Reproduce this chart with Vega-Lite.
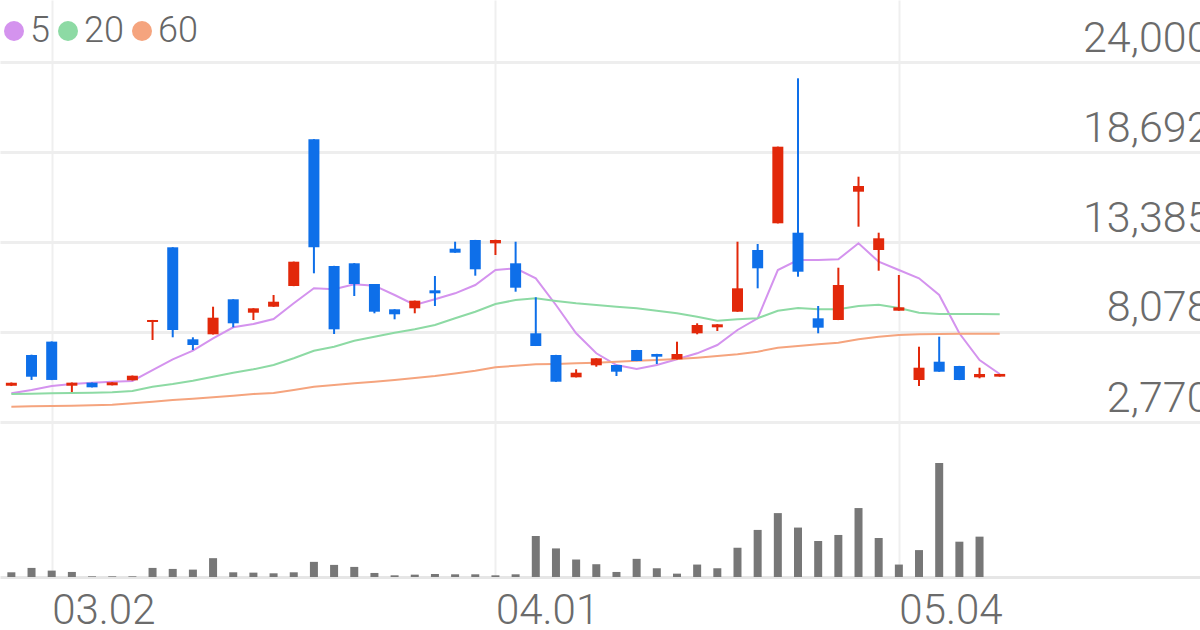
{
  "$schema": "https://vega.github.io/schema/vega-lite/v6.json",
  "padding": 0,
  "background": "white",
  "spacing": 0,
  "bounds": "flush",
  "config": {"view": {"stroke": null}, "font": "Roboto"},
  "datasets": {
    "d": [
      {"i": 0, "date": "02.27", "open": 4910, "high": 5100, "low": 4890, "close": 5090, "volume": 140000, "ma5": 4463, "ma20": 4421, "ma60": 3672},
      {"i": 1, "date": "02.28", "open": 6720, "high": 6740, "low": 5250, "close": 5440, "volume": 270000, "ma5": 4657, "ma20": 4439, "ma60": 3696},
      {"i": 2, "date": "03.02", "open": 7510, "high": 7520, "low": 5240, "close": 5250, "volume": 190000, "ma5": 4893, "ma20": 4463, "ma60": 3713},
      {"i": 3, "date": "03.03", "open": 4910, "high": 5100, "low": 4540, "close": 5090, "volume": 150000, "ma5": 5011, "ma20": 4480, "ma60": 3731},
      {"i": 4, "date": "03.04", "open": 5088, "high": 5095, "low": 4810, "close": 4816, "volume": 20000, "ma5": 5088, "ma20": 4498, "ma60": 3755},
      {"i": 5, "date": "03.05", "open": 4934, "high": 5115, "low": 4930, "close": 5111, "volume": 20000, "ma5": 5146, "ma20": 4521, "ma60": 3790},
      {"i": 6, "date": "03.06", "open": 5229, "high": 5510, "low": 5220, "close": 5500, "volume": 20000, "ma5": 5188, "ma20": 4598, "ma60": 3873},
      {"i": 7, "date": "03.09", "open": 8667, "high": 8790, "low": 7606, "close": 8785, "volume": 270000, "ma5": 5836, "ma20": 4852, "ma60": 3967},
      {"i": 8, "date": "03.10", "open": 13072, "high": 13080, "low": 7765, "close": 8195, "volume": 240000, "ma5": 6467, "ma20": 5011, "ma60": 4067},
      {"i": 9, "date": "03.11", "open": 7647, "high": 7765, "low": 7016, "close": 7311, "volume": 220000, "ma5": 6975, "ma20": 5205, "ma60": 4144},
      {"i": 10, "date": "03.12", "open": 7942, "high": 9569, "low": 7930, "close": 8921, "volume": 560000, "ma5": 7706, "ma20": 5441, "ma60": 4226},
      {"i": 11, "date": "03.13", "open": 10006, "high": 10010, "low": 8354, "close": 8590, "volume": 140000, "ma5": 8354, "ma20": 5677, "ma60": 4321},
      {"i": 12, "date": "03.16", "open": 9216, "high": 9480, "low": 8785, "close": 9475, "volume": 130000, "ma5": 8549, "ma20": 5878, "ma60": 4421},
      {"i": 13, "date": "03.17", "open": 9569, "high": 10259, "low": 9560, "close": 9864, "volume": 110000, "ma5": 8844, "ma20": 6131, "ma60": 4480},
      {"i": 14, "date": "03.18", "open": 10790, "high": 12230, "low": 10780, "close": 12223, "volume": 140000, "ma5": 9770, "ma20": 6526, "ma60": 4657},
      {"i": 15, "date": "03.19", "open": 19441, "high": 19450, "low": 11539, "close": 13072, "volume": 450000, "ma5": 10654, "ma20": 6975, "ma60": 4852},
      {"i": 16, "date": "03.20", "open": 11969, "high": 11980, "low": 7959, "close": 8236, "volume": 360000, "ma5": 10595, "ma20": 7210, "ma60": 4952},
      {"i": 17, "date": "03.23", "open": 12129, "high": 12140, "low": 10200, "close": 10908, "volume": 300000, "ma5": 10890, "ma20": 7564, "ma60": 5052},
      {"i": 18, "date": "03.24", "open": 10908, "high": 10910, "low": 9180, "close": 9274, "volume": 120000, "ma5": 10808, "ma20": 7800, "ma60": 5146},
      {"i": 19, "date": "03.25", "open": 9416, "high": 9420, "low": 8826, "close": 9121, "volume": 50000, "ma5": 10259, "ma20": 8036, "ma60": 5247},
      {"i": 20, "date": "03.26", "open": 9475, "high": 9930, "low": 9180, "close": 9923, "volume": 70000, "ma5": 9670, "ma20": 8236, "ma60": 5365},
      {"i": 21, "date": "03.27", "open": 10536, "high": 11380, "low": 9611, "close": 10359, "volume": 90000, "ma5": 10006, "ma20": 8490, "ma60": 5483},
      {"i": 22, "date": "03.30", "open": 12990, "high": 13402, "low": 12750, "close": 12754, "volume": 80000, "ma5": 10359, "ma20": 8885, "ma60": 5630},
      {"i": 23, "date": "03.31", "open": 13503, "high": 13510, "low": 11398, "close": 11775, "volume": 80000, "ma5": 10849, "ma20": 9274, "ma60": 5795},
      {"i": 24, "date": "04.01", "open": 13308, "high": 13520, "low": 12618, "close": 13503, "volume": 50000, "ma5": 11734, "ma20": 9729, "ma60": 5996},
      {"i": 25, "date": "04.02", "open": 12129, "high": 13402, "low": 10454, "close": 10690, "volume": 80000, "ma5": 11834, "ma20": 9964, "ma60": 6090},
      {"i": 26, "date": "04.03", "open": 8001, "high": 10124, "low": 7250, "close": 7252, "volume": 1220000, "ma5": 11244, "ma20": 10065, "ma60": 6172},
      {"i": 27, "date": "04.06", "open": 6721, "high": 6730, "low": 5140, "close": 5146, "volume": 850000, "ma5": 9670, "ma20": 9905, "ma60": 6190},
      {"i": 28, "date": "04.07", "open": 5406, "high": 5878, "low": 5400, "close": 5677, "volume": 520000, "ma5": 8001, "ma20": 9770, "ma60": 6232},
      {"i": 29, "date": "04.08", "open": 6114, "high": 6530, "low": 6031, "close": 6526, "volume": 380000, "ma5": 6821, "ma20": 9670, "ma60": 6267},
      {"i": 30, "date": "04.09", "open": 6131, "high": 6140, "low": 5483, "close": 5736, "volume": 150000, "ma5": 6131, "ma20": 9569, "ma60": 6326},
      {"i": 31, "date": "04.10", "open": 7016, "high": 7020, "low": 6360, "close": 6367, "volume": 540000, "ma5": 5895, "ma20": 9475, "ma60": 6385},
      {"i": 32, "date": "04.13", "open": 6780, "high": 6790, "low": 6190, "close": 6621, "volume": 260000, "ma5": 6131, "ma20": 9333, "ma60": 6426},
      {"i": 33, "date": "04.14", "open": 6467, "high": 7506, "low": 6460, "close": 6780, "volume": 100000, "ma5": 6467, "ma20": 9180, "ma60": 6485},
      {"i": 34, "date": "04.16", "open": 8001, "high": 8590, "low": 7942, "close": 8490, "volume": 370000, "ma5": 6821, "ma20": 8980, "ma60": 6562},
      {"i": 35, "date": "04.17", "open": 8354, "high": 8540, "low": 8136, "close": 8531, "volume": 260000, "ma5": 7311, "ma20": 8744, "ma60": 6662},
      {"i": 36, "date": "04.20", "open": 9274, "high": 13402, "low": 9270, "close": 10654, "volume": 870000, "ma5": 8195, "ma20": 8826, "ma60": 6762},
      {"i": 37, "date": "04.21", "open": 12913, "high": 13267, "low": 10654, "close": 11834, "volume": 1400000, "ma5": 8885, "ma20": 8885, "ma60": 6916},
      {"i": 38, "date": "04.22", "open": 14488, "high": 19010, "low": 14480, "close": 19005, "volume": 1900000, "ma5": 11734, "ma20": 9333, "ma60": 7151},
      {"i": 39, "date": "04.23", "open": 13933, "high": 23039, "low": 11338, "close": 11633, "volume": 1470000, "ma5": 12323, "ma20": 9493, "ma60": 7252},
      {"i": 40, "date": "04.24", "open": 8885, "high": 9611, "low": 8001, "close": 8331, "volume": 1070000, "ma5": 12323, "ma20": 9416, "ma60": 7352},
      {"i": 41, "date": "04.27", "open": 8785, "high": 11869, "low": 8780, "close": 10849, "volume": 1250000, "ma5": 12365, "ma20": 9416, "ma60": 7446},
      {"i": 42, "date": "04.28", "open": 16351, "high": 17236, "low": 14287, "close": 16687, "volume": 2050000, "ma5": 13308, "ma20": 9611, "ma60": 7647},
      {"i": 43, "date": "04.29", "open": 12913, "high": 13933, "low": 11692, "close": 13603, "volume": 1160000, "ma5": 12223, "ma20": 9687, "ma60": 7800},
      {"i": 44, "date": "05.04", "open": 9333, "high": 11439, "low": 9330, "close": 9534, "volume": 370000, "ma5": 11734, "ma20": 9493, "ma60": 7900},
      {"i": 45, "date": "05.06", "open": 5247, "high": 7210, "low": 4893, "close": 5972, "volume": 800000, "ma5": 11244, "ma20": 9216, "ma60": 7942},
      {"i": 46, "date": "05.07", "open": 6326, "high": 7800, "low": 5730, "close": 5736, "volume": 3390000, "ma5": 10259, "ma20": 9139, "ma60": 7959},
      {"i": 47, "date": "05.08", "open": 6072, "high": 6080, "low": 5240, "close": 5247, "volume": 1050000, "ma5": 8001, "ma20": 9139, "ma60": 7977},
      {"i": 48, "date": "05.11", "open": 5406, "high": 5972, "low": 5347, "close": 5600, "volume": 1200000, "ma5": 6426, "ma20": 9139, "ma60": 7977},
      {"i": 49, "date": "05.12", "open": 5445, "high": 5605, "low": 5445, "close": 5605, "volume": 0, "ma5": 5600, "ma20": 9121, "ma60": 7977}
    ]
  },
  "vconcat": [
    {
      "width": 1200,
      "height": 422,
      "data": {"name": "d"},
      "encoding": {
        "x": {
          "field": "i",
          "type": "quantitative",
          "scale": {"domain": [-0.5632, 58.93], "nice": false, "zero": false, "padding": 0},
          "axis": {
            "values": [2, 24, 44],
            "labels": false, "ticks": false, "domain": false, "title": null,
            "grid": true, "gridColor": "#efefef", "gridWidth": 2
          }
        }
      },
      "layer": [
        {
          "transform": [{"fold": ["ma5", "ma20", "ma60"], "as": ["ma", "value"]}],
          "mark": {"type": "line", "strokeWidth": 2},
          "encoding": {
            "y": {
              "field": "value",
              "type": "quantitative",
              "scale": {"domain": [2770, 27656.3], "nice": false, "zero": false},
              "axis": {
                "orient": "right",
                "values": [2770, 8078, 13385, 18692, 24000],
                "format": ",.0f",
                "title": null,
                "grid": true, "gridColor": "#eeeeee", "gridWidth": 3,
                "domain": false, "ticks": false, "tickSize": 0,
                "labelAlign": "right", "labelPadding": 10,
                "labelBaseline": "alphabetic", "labelOffset": -11,
                "labelFontSize": 43, "labelFontWeight": 300,
                "labelColor": "#6b6b6b", "labelOverlap": false, "labelFont": "Roboto"
              }
            },
            "color": {
              "field": "ma",
              "type": "nominal",
              "scale": {"domain": ["ma5", "ma20", "ma60"], "range": ["#d493ee", "#8ddaa4", "#f5a47e"]},
              "legend": {
                "orient": "none", "legendX": 5, "legendY": 13,
                "direction": "horizontal", "title": null,
                "symbolType": "circle", "symbolSize": 400, "symbolOffset": -9,
                "labelFontSize": 36, "labelFontWeight": 300, "labelColor": "#666666",
                "labelOffset": -2, "columnPadding": 8, "padding": 0,
                "labelExpr": "replace(datum.label, 'ma', '')",
                "encode": {"symbols": {"update": {"fill": {"scale": "color", "field": "value"}, "strokeWidth": {"value": 0}, "opacity": {"value": 1}}}}
              }
            }
          }
        },
        {
          "mark": {"type": "rule", "strokeWidth": 2},
          "encoding": {
            "y": {"field": "low", "type": "quantitative"},
            "y2": {"field": "high"},
            "color": {"condition": {"test": "datum.close >= datum.open", "value": "#e2280a"}, "value": "#0e6fe9"}
          }
        },
        {
          "mark": {"type": "bar", "width": 11},
          "encoding": {
            "y": {"field": "open", "type": "quantitative"},
            "y2": {"field": "close"},
            "color": {"condition": {"test": "datum.close >= datum.open", "value": "#e2280a"}, "value": "#0e6fe9"}
          }
        }
      ]
    },
    {
      "width": 1200,
      "height": 155,
      "data": {"name": "d"},
      "mark": {"type": "bar", "width": 8, "color": "#777777"},
      "encoding": {
        "x": {
          "field": "i",
          "type": "quantitative",
          "scale": {"domain": [-0.5632, 58.93], "nice": false, "zero": false, "padding": 0},
          "axis": {
            "values": [2, 24, 44],
            "labelExpr": "datum.value == 2 ? '03.02' : datum.value == 24 ? '04.01' : '05.04'",
            "title": null, "ticks": false,
            "grid": true, "gridColor": "#efefef", "gridWidth": 2,
            "domain": true, "domainColor": "#e6e6e6", "domainWidth": 3,
            "labelAlign": "left", "labelPadding": 13, "labelAngle": 0, "labelFlush": false, "labelOverlap": false,
            "labelFontSize": 42, "labelFontWeight": 300, "labelColor": "#6b6b6b", "labelFont": "Roboto"
          }
        },
        "y": {
          "field": "volume",
          "type": "quantitative",
          "scale": {"domain": [0, 4609000], "nice": false},
          "axis": null
        }
      }
    }
  ]
}
